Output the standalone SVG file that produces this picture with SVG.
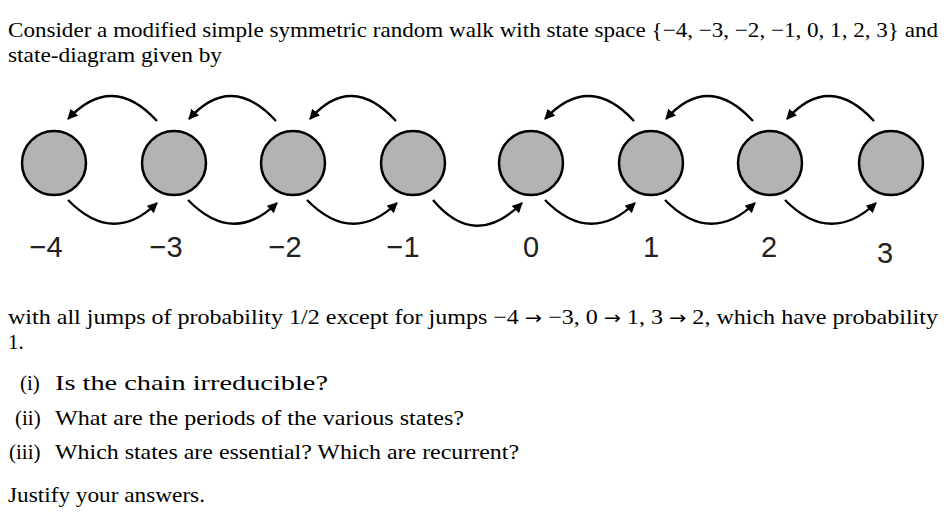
<svg xmlns="http://www.w3.org/2000/svg" width="949" height="522" viewBox="0 0 949 522">
<style>
.t{font-family:"Liberation Serif",serif;font-size:21px;fill:#000}
.n{fill:#b3b3b3;stroke:#000;stroke-width:2.5}
.e{fill:none;stroke:#000;stroke-width:2.3;marker-end:url(#a)}
.l{font-family:"Liberation Sans",sans-serif;font-size:29px;fill:#222;text-anchor:middle}
.ar{font-family:"DejaVu Sans",sans-serif;font-size:18px}
</style>
<defs><marker id="a" viewBox="0 0 10 10" refX="9" refY="5" markerWidth="4.5" markerHeight="4.5" orient="auto"><path d="M0,0L10,5L0,10z" fill="#000"/></marker></defs>
<rect width="949" height="522" fill="#fff"/>
<text class="t" x="8" y="37" textLength="930" lengthAdjust="spacingAndGlyphs">Consider a modified simple symmetric random walk with state space {−4, −3, −2, −1, 0, 1, 2, 3} and</text>
<text class="t" x="8" y="62" textLength="214" lengthAdjust="spacingAndGlyphs">state-diagram given by</text>
<g id="edges">
<path class="e" d="M157,121 Q112,72 68,119"/>
<path class="e" d="M276,121 Q231,72 189,119"/>
<path class="e" d="M396,121 Q351,72 310,119"/>
<path class="e" d="M634,121 Q589,72 545,119"/>
<path class="e" d="M753,121 Q708,72 666,119"/>
<path class="e" d="M874,121 Q829,72 787,119"/>
<path class="e" d="M68,200 Q113,246 157,203"/>
<path class="e" d="M188,200 Q233,246 277,203"/>
<path class="e" d="M307,200 Q352,246 397,203"/>
<path class="e" d="M433,200 Q475,250 522,203"/>
<path class="e" d="M545,200 Q590,246 635,203"/>
<path class="e" d="M665,200 Q710,246 755,203"/>
<path class="e" d="M785,200 Q830,246 876,203"/>
</g>
<g id="s-4"><circle class="n" cx="54" cy="163" r="32"/><text class="l" x="46" y="257">−4</text></g>
<g id="s-3"><circle class="n" cx="174" cy="163" r="32"/><text class="l" x="166" y="257">−3</text></g>
<g id="s-2"><circle class="n" cx="293" cy="163" r="32"/><text class="l" x="285" y="257">−2</text></g>
<g id="s-1"><circle class="n" cx="413" cy="163" r="32"/><text class="l" x="403" y="257">−1</text></g>
<g id="s0"><circle class="n" cx="531" cy="163" r="32"/><text class="l" x="531" y="257">0</text></g>
<g id="s1"><circle class="n" cx="651" cy="163" r="32"/><text class="l" x="651" y="257">1</text></g>
<g id="s2"><circle class="n" cx="770" cy="163" r="32"/><text class="l" x="769" y="257">2</text></g>
<g id="s3"><circle class="n" cx="891" cy="163" r="32"/><text class="l" x="885" y="263">3</text></g>
<text class="t" x="8" y="324" textLength="930" lengthAdjust="spacingAndGlyphs">with all jumps of probability 1/2 except for jumps −4 <tspan class="ar">→</tspan> −3, 0 <tspan class="ar">→</tspan> 1, 3 <tspan class="ar">→</tspan> 2, which have probability</text>
<text class="t" x="8" y="349">1.</text>
<text class="t" x="20" y="390">(i)</text>
<text class="t" x="55" y="390" textLength="273" lengthAdjust="spacingAndGlyphs">Is the chain irreducible?</text>
<text class="t" x="15" y="425">(ii)</text>
<text class="t" x="55" y="425" textLength="409" lengthAdjust="spacingAndGlyphs">What are the periods of the various states?</text>
<text class="t" x="9" y="459">(iii)</text>
<text class="t" x="55" y="459" textLength="464" lengthAdjust="spacingAndGlyphs">Which states are essential? Which are recurrent?</text>
<text class="t" x="8" y="502" textLength="197" lengthAdjust="spacingAndGlyphs">Justify your answers.</text>
</svg>
